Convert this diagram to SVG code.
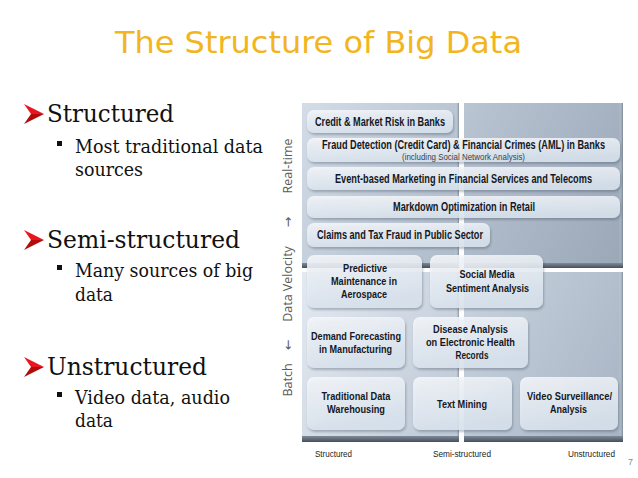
<svg xmlns="http://www.w3.org/2000/svg" width="638" height="478" viewBox="0 0 638 478">
<style>
.ttl{font-family:"DejaVu Sans",Verdana,sans-serif;font-size:30px;fill:#f2b51e}
.h{font-family:"DejaVu Serif","Liberation Serif",serif;font-size:23.5px;fill:#111}
.s{font-family:"DejaVu Serif","Liberation Serif",serif;font-size:18px;fill:#111}
.bt{font-family:"Liberation Sans",Arial,sans-serif;font-weight:bold;font-size:12px;fill:#141824;text-anchor:middle}
.bs{font-family:"Liberation Sans",Arial,sans-serif;font-weight:bold;font-size:11.2px;fill:#141824;text-anchor:middle}
.sm{font-family:"Liberation Sans",Arial,sans-serif;font-size:9px;fill:#3a3f4a;text-anchor:middle}
.ax{font-family:"Open Sans","DejaVu Sans",sans-serif;font-size:12.5px;fill:#5a5a5a;text-anchor:middle}
.xl{font-family:"Liberation Sans",Arial,sans-serif;font-size:9.5px;fill:#222;text-anchor:middle}
.box{fill:url(#boxg);fill-opacity:0.86;filter:url(#sh)}
.shade{fill:url(#bev)}
</style>
<defs>
<linearGradient id="topg" gradientUnits="userSpaceOnUse" x1="302" y1="103" x2="623" y2="268">
<stop offset="0" stop-color="#d3dce7"/><stop offset="0.45" stop-color="#b6c2d0"/><stop offset="1" stop-color="#9aa7b7"/>
</linearGradient>
<linearGradient id="botg" gradientUnits="userSpaceOnUse" x1="302" y1="272" x2="623" y2="442">
<stop offset="0" stop-color="#e3e9f1"/><stop offset="0.45" stop-color="#c6d0dc"/><stop offset="1" stop-color="#a6b3c3"/>
</linearGradient>
<linearGradient id="boxg" x1="0" y1="0" x2="0.3" y2="1">
<stop offset="0" stop-color="#f7f9fc"/><stop offset="1" stop-color="#dbe5f0"/>
</linearGradient>
<linearGradient id="bev" x1="0" y1="0" x2="0" y2="1">
<stop offset="0" stop-color="#7f8a98"/><stop offset="1" stop-color="#454f5c"/>
</linearGradient>
<linearGradient id="rim" x1="0" y1="0" x2="1" y2="0">
<stop offset="0" stop-color="#ffffff" stop-opacity="0"/><stop offset="1" stop-color="#5d6878" stop-opacity="0.6"/>
</linearGradient>
<filter id="sh" x="-10%" y="-20%" width="120%" height="150%">
<feDropShadow dx="1" dy="2" stdDeviation="1.3" flood-color="#2e3a48" flood-opacity="0.35"/>
</filter>
</defs>
<rect width="638" height="478" fill="#ffffff"/>

<text class="ttl" x="115" y="53" textLength="407" lengthAdjust="spacingAndGlyphs">The Structure of Big Data</text>

<g id="list">
<g id="structured">
<polygon points="24,104 44,114 31,114" fill="#e8161e"/>
<polygon points="31,114 44,114 24,124" fill="#b30a0a"/>
<text class="h" x="47" y="122" textLength="127" lengthAdjust="spacingAndGlyphs">Structured</text>
<rect x="57" y="141" width="5" height="5" fill="#111"/>
<text class="s" x="75" y="153" textLength="188" lengthAdjust="spacingAndGlyphs">Most traditional data</text>
<text class="s" x="75" y="176" textLength="68" lengthAdjust="spacingAndGlyphs">sources</text>
</g>
<g id="semi">
<polygon points="24,230 44,240 31,240" fill="#e8161e"/>
<polygon points="31,240 44,240 24,250" fill="#b30a0a"/>
<text class="h" x="47" y="248" textLength="193" lengthAdjust="spacingAndGlyphs">Semi-structured</text>
<rect x="57" y="265" width="5" height="5" fill="#111"/>
<text class="s" x="75" y="277" textLength="178" lengthAdjust="spacingAndGlyphs">Many sources of big</text>
<text class="s" x="75" y="301" textLength="38" lengthAdjust="spacingAndGlyphs">data</text>
</g>
<g id="unstructured">
<polygon points="24,357 44,367 31,367" fill="#e8161e"/>
<polygon points="31,367 44,367 24,377" fill="#b30a0a"/>
<text class="h" x="47" y="375" textLength="160" lengthAdjust="spacingAndGlyphs">Unstructured</text>
<rect x="57" y="392" width="5" height="5" fill="#111"/>
<text class="s" x="75" y="404" textLength="155" lengthAdjust="spacingAndGlyphs">Video data, audio</text>
<text class="s" x="75" y="427" textLength="38" lengthAdjust="spacingAndGlyphs">data</text>
</g>
</g>

<g id="panels">
<rect x="302" y="103" width="157" height="165" fill="url(#topg)"/>
<rect x="464" y="103" width="159" height="165" fill="url(#topg)"/>
<rect x="302" y="272" width="157" height="170" fill="url(#botg)"/>
<rect x="464" y="272" width="159" height="170" fill="url(#botg)"/>
<rect x="455" y="103" width="4" height="165" fill="url(#rim)"/>
<rect x="619" y="103" width="4" height="165" fill="url(#rim)"/>
<rect x="455" y="272" width="4" height="170" fill="url(#rim)"/>
<rect x="619" y="272" width="4" height="170" fill="url(#rim)"/>
<rect class="shade" x="302" y="263" width="157" height="5"/>
<rect class="shade" x="464" y="263" width="159" height="5"/>
<rect class="shade" x="302" y="436" width="157" height="6"/>
<rect class="shade" x="464" y="436" width="159" height="6"/>
</g>

<g id="n1"><rect class="box" x="307" y="110" width="146" height="23" rx="7"/>
<text class="bt" x="380" y="126" textLength="130" lengthAdjust="spacingAndGlyphs">Credit &amp; Market Risk in Banks</text></g>
<g id="n2"><rect class="box" x="307" y="138" width="313" height="24" rx="7"/>
<text class="bt" x="463.5" y="149" textLength="283" lengthAdjust="spacingAndGlyphs">Fraud Detection (Credit Card) &amp; Financial Crimes (AML) in Banks</text>
<text class="sm" x="463.5" y="159.5" textLength="123" lengthAdjust="spacingAndGlyphs">(including Social Network Analysis)</text></g>
<g id="n3"><rect class="box" x="307" y="167" width="313" height="23" rx="7"/>
<text class="bt" x="463.5" y="183" textLength="257" lengthAdjust="spacingAndGlyphs">Event-based Marketing in Financial Services and Telecoms</text></g>
<g id="n4"><rect class="box" x="307" y="196" width="313" height="22" rx="7"/>
<text class="bt" x="464" y="211" textLength="142" lengthAdjust="spacingAndGlyphs">Markdown Optimization in Retail</text></g>
<g id="n5"><rect class="box" x="307" y="223" width="183" height="24" rx="7"/>
<text class="bt" x="400" y="239" textLength="166" lengthAdjust="spacingAndGlyphs">Claims and Tax Fraud in Public Sector</text></g>
<g id="n6"><rect class="box" x="307" y="255" width="115" height="53" rx="7"/>
<text class="bs" x="365" y="272" textLength="44" lengthAdjust="spacingAndGlyphs">Predictive</text>
<text class="bs" x="364" y="285" textLength="66" lengthAdjust="spacingAndGlyphs">Maintenance in</text>
<text class="bs" x="364" y="298" textLength="46" lengthAdjust="spacingAndGlyphs">Aerospace</text></g>
<g id="n7"><rect class="box" x="430" y="255" width="113" height="53" rx="7"/>
<text class="bs" x="487" y="278" textLength="55" lengthAdjust="spacingAndGlyphs">Social Media</text>
<text class="bs" x="487.5" y="292" textLength="83" lengthAdjust="spacingAndGlyphs">Sentiment Analysis</text></g>
<g id="n8"><rect class="box" x="307" y="317" width="98" height="51" rx="7"/>
<text class="bs" x="356" y="340" textLength="90" lengthAdjust="spacingAndGlyphs">Demand Forecasting</text>
<text class="bs" x="355.5" y="353" textLength="73" lengthAdjust="spacingAndGlyphs">in Manufacturing</text></g>
<g id="n9"><rect class="box" x="413" y="317" width="115" height="51" rx="7"/>
<text class="bs" x="470.5" y="333" textLength="75" lengthAdjust="spacingAndGlyphs">Disease Analysis</text>
<text class="bs" x="470.5" y="346" textLength="89" lengthAdjust="spacingAndGlyphs">on Electronic Health</text>
<text class="bs" x="472" y="359" textLength="33" lengthAdjust="spacingAndGlyphs">Records</text></g>
<g id="n10"><rect class="box" x="307" y="377" width="98" height="53" rx="7"/>
<text class="bs" x="356" y="400" textLength="69" lengthAdjust="spacingAndGlyphs">Traditional Data</text>
<text class="bs" x="356" y="413" textLength="58" lengthAdjust="spacingAndGlyphs">Warehousing</text></g>
<g id="n11"><rect class="box" x="413" y="377" width="99" height="53" rx="7"/>
<text class="bs" x="462" y="408" textLength="50" lengthAdjust="spacingAndGlyphs">Text Mining</text></g>
<g id="n12"><rect class="box" x="520" y="377" width="98" height="53" rx="7"/>
<text class="bs" x="569.5" y="400" textLength="85" lengthAdjust="spacingAndGlyphs">Video Surveillance/</text>
<text class="bs" x="568.5" y="413" textLength="37" lengthAdjust="spacingAndGlyphs">Analysis</text></g>

<g id="yaxis">
<text class="ax" transform="translate(292,166) rotate(-90)">Real-time</text>
<text class="ax" transform="translate(292,222) rotate(-90)" font-size="14">→</text>
<text class="ax" transform="translate(292,284) rotate(-90)">Data Velocity</text>
<text class="ax" transform="translate(292,345) rotate(-90)" font-size="14">←</text>
<text class="ax" transform="translate(292,380) rotate(-90)">Batch</text>
</g>
<g id="xaxis">
<text class="xl" x="333.5" y="457" textLength="37" lengthAdjust="spacingAndGlyphs">Structured</text>
<text class="xl" x="462" y="457" textLength="58" lengthAdjust="spacingAndGlyphs">Semi-structured</text>
<text class="xl" x="591.5" y="457" textLength="47" lengthAdjust="spacingAndGlyphs">Unstructured</text>
</g>
<text x="628" y="465" font-family="Liberation Sans,Arial,sans-serif" font-size="9" fill="#8a8a8a">7</text>
</svg>
